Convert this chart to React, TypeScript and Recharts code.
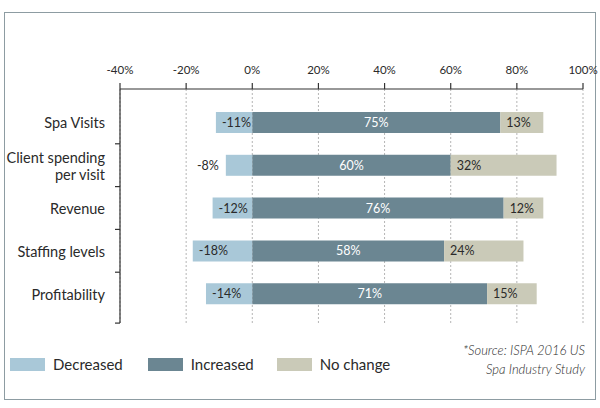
import { BarChart, Bar, XAxis, YAxis, CartesianGrid, LabelList } from 'recharts'

const CATEGORIES = ['Spa Visits', 'Client spending per visit', 'Revenue', 'Staffing levels', 'Profitability']
const DECREASED = [-11, -8, -12, -18, -14]
const INCREASED = [75, 60, 76, 58, 71]
const NO_CHANGE = [13, 32, 12, 24, 15]
const X_TICKS = [-40, -20, 0, 20, 40, 60, 80, 100]

const COLORS = {
  decreased: '#a9c8d8',
  increased: '#6b8692',
  noChange: '#cacab8',
}

const FONT = 'Lato, "Open Sans", sans-serif'
const TEXT = '#2a2a2a'
const LIGHT = 300

const data = CATEGORIES.map((name, i) => ({
  name,
  decreased: DECREASED[i],
  increased: INCREASED[i],
  noChange: NO_CHANGE[i],
}))

const LEGEND = [
  { label: 'Decreased', color: COLORS.decreased },
  { label: 'Increased', color: COLORS.increased },
  { label: 'No change', color: COLORS.noChange },
]

// split long category names onto two lines
function wrap(label: string): string[] {
  if (label.length <= 16) return [label]
  const cut = label.lastIndexOf(' ', 16)
  return [label.slice(0, cut), label.slice(cut + 1)]
}

const HALF_BAND = 21.4

function CategoryTick(props: any) {
  const { x, y, payload, index } = props
  const lines = wrap(payload.value)
  const axisX = x + 15
  const markY = index === CATEGORIES.length - 1 ? y + 29.5 : y + HALF_BAND
  return (
    <g>
      <text
        x={x}
        y={y - ((lines.length - 1) * 17) / 2}
        textAnchor="end"
        dominantBaseline="central"
        fill={TEXT}
        fontSize={14.5}
        fontFamily={FONT}
      >
        {lines.map((l, i) => (
          <tspan key={i} x={x} dy={i === 0 ? 0 : 17}>
            {l}
          </tspan>
        ))}
      </text>
      <line x1={axisX - 5} x2={axisX} y1={markY} y2={markY} stroke="#333" strokeWidth={1.2} />
    </g>
  )
}

function DecreasedLabel(props: any) {
  const { x, y, width, height, value } = props
  const left = Math.min(x, x + width)
  const w = Math.abs(width)
  const inside = w > 30
  return (
    <text
      x={inside ? left + 6 : left - 7}
      y={y + height / 2}
      textAnchor={inside ? 'start' : 'end'}
      dominantBaseline="central"
      fill={TEXT}
      fontSize={12.5}
      fontFamily={FONT}
    >
      {value}%
    </text>
  )
}

export default function App() {
  return (
    <div style={{ position: 'absolute', left: 0, top: 0, width: 600, height: 408, background: '#fff', fontFamily: FONT }}>
      <div
        style={{
          position: 'absolute',
          left: 4,
          top: 12,
          width: 590,
          height: 386,
          border: '1.5px solid #8d9ca2',
        }}
      />
      <div style={{ position: 'absolute', left: 0, top: 0 }}>
        <BarChart
          width={600}
          height={408}
          data={data}
          layout="vertical"
          stackOffset="sign"
          margin={{ top: 60, right: 17, bottom: 85, left: 0 }}
        >
          <CartesianGrid horizontal={false} stroke="#b5b5b5" strokeDasharray="2 2" />
          <XAxis
            type="number"
            orientation="top"
            domain={[-40, 100]}
            ticks={X_TICKS}
            height={29}
            tickFormatter={(v: number) => `${v}%`}
            tick={{ fill: TEXT, fontSize: 11.5, fontFamily: FONT }}
            tickSize={6}
            tickMargin={9}
            stroke="#333"
            strokeWidth={1.2}
            allowDataOverflow
          />
          <YAxis
            type="category"
            dataKey="name"
            width={120}
            tickSize={0}
            tickMargin={15}
            tickLine={false}
            tick={<CategoryTick />}
            padding={{ top: 12, bottom: 8 }}
            stroke="#333"
            strokeWidth={1.2}
            interval={0}
          />
          <Bar dataKey="decreased" stackId="a" fill={COLORS.decreased} barSize={21} isAnimationActive={false}>
            <LabelList dataKey="decreased" content={<DecreasedLabel />} />
          </Bar>
          <Bar dataKey="increased" stackId="a" fill={COLORS.increased} barSize={21} isAnimationActive={false}>
            <LabelList
              dataKey="increased"
              position="center"
              formatter={(v: any) => `${v}%`}
              fill="#ffffff"
              fontSize={12.5}
              fontFamily={FONT}
            />
          </Bar>
          <Bar dataKey="noChange" stackId="a" fill={COLORS.noChange} barSize={21} isAnimationActive={false}>
            <LabelList
              dataKey="noChange"
              position="insideLeft"
              offset={6}
              formatter={(v: any) => `${v}%`}
              fill={TEXT}
              fontSize={12.5}
              fontFamily={FONT}
            />
          </Bar>
        </BarChart>
      </div>

      {/* legend */}
      <div style={{ position: 'absolute', left: 10, top: 355, display: 'flex', alignItems: 'center' }}>
        {LEGEND.map((item, i) => (
          <div key={item.label} style={{ display: 'flex', alignItems: 'center', marginRight: i === 0 ? 25 : 23 }}>
            <span style={{ display: 'inline-block', width: 35, height: 13, background: item.color, marginRight: 8 }} />
            <span style={{ fontSize: 15, color: TEXT }}>{item.label}</span>
          </div>
        ))}
      </div>

      {/* source note */}
      <div
        style={{
          position: 'absolute',
          right: 15,
          top: 341,
          textAlign: 'right',
          fontStyle: 'italic',
          fontSize: 13,
          fontWeight: LIGHT,
          lineHeight: '19px',
          color: TEXT,
        }}
      >
        *Source: ISPA 2016 US
        <br />
        Spa Industry Study
      </div>
    </div>
  )
}
